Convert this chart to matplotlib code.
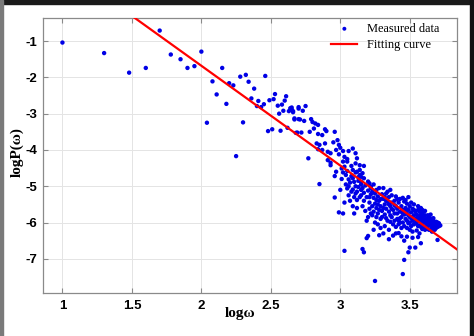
import numpy as np
import matplotlib
matplotlib.use("Agg")
import matplotlib.pyplot as plt
from matplotlib.patches import Rectangle

# log(omega), log(P) pairs

# sparse head of the distribution
head_points = [
    (1.00, -1.04), (1.30, -1.33), (1.48, -1.87), (1.60, -1.74), (1.70, -0.71),
    (1.78, -1.37), (1.85, -1.50), (1.90, -1.74), (1.95, -1.69), (2.00, -1.29),
    (2.08, -2.11), (2.11, -2.47), (2.15, -1.74), (2.18, -2.73), (2.04, -3.25),
    (2.20, -2.16), (2.23, -2.22), (2.28, -1.98), (2.32, -1.93), (2.34, -2.12),
    (2.30, -3.24), (2.36, -2.58), (2.38, -2.31), (2.40, -2.79), (2.41, -2.65),
    (2.43, -2.82), (2.45, -2.74), (2.46, -1.96), (2.48, -3.48), (2.51, -3.43),
    (2.49, -2.63), (2.52, -2.60), (2.53, -2.46), (2.55, -2.78), (2.56, -3.00),
    (2.57, -3.47), (2.58, -2.75), (2.59, -2.92), (2.60, -2.64), (2.61, -2.52),
    (2.62, -3.39), (2.63, -2.93), (2.64, -2.85), (2.65, -2.83), (2.66, -2.93),
    (2.67, -3.16), (2.69, -3.52), (2.70, -2.86), (2.70, -3.15), (2.25, -4.17),
]

# transition region 2.65 - 3.15
mid_points = [
    (2.65, -2.88), (2.66, -2.96), (2.70, -2.82), (2.73, -2.92), (2.75, -2.79),
    (2.67, -3.13), (2.71, -3.16), (2.74, -3.20), (2.79, -3.15), (2.80, -3.23),
    (2.82, -3.27), (2.84, -3.31), (2.81, -3.41), (2.78, -3.50), (2.68, -3.53),
    (2.72, -3.52), (2.84, -3.56), (2.87, -3.59), (2.89, -3.43), (2.90, -3.48),
    (2.96, -3.50), (2.83, -3.82), (2.85, -3.86), (2.89, -3.82), (2.84, -3.98),
    (2.87, -4.00), (2.91, -4.05), (2.93, -4.09), (2.95, -3.79), (2.98, -3.73),
    (2.99, -3.86), (3.00, -3.94), (3.02, -4.03), (2.97, -4.00), (2.99, -4.12),
    (3.03, -4.19), (3.05, -4.25), (3.06, -4.03), (3.09, -3.96), (3.11, -4.09),
    (3.12, -4.23), (2.77, -4.23), (2.91, -4.28), (2.93, -4.35), (3.02, -4.32),
    (3.05, -4.32), (2.93, -4.42), (2.97, -4.60), (2.96, -4.72), (2.85, -4.94),
    (3.01, -4.51), (3.03, -4.46), (3.04, -4.69), (3.08, -4.44), (3.09, -4.55),
    (3.06, -4.81), (3.05, -5.06), (3.09, -5.09), (3.11, -5.20), (3.12, -5.15),
    (2.96, -5.31), (3.12, -5.38), (3.09, -5.55), (2.99, -5.72), (3.02, -5.75),
    (3.11, -4.37), (3.11, -4.62), (3.14, -4.42), (3.17, -4.44), (3.12, -4.60),
    (3.14, -4.69), (3.15, -4.74), (3.16, -4.64), (3.17, -4.78), (3.20, -4.87),
    (3.21, -4.92), (3.22, -5.01), (3.01, -4.80), (3.04, -4.95), (3.06, -5.25),
    (3.08, -4.72), (3.10, -4.88), (3.13, -5.02), (3.14, -5.30), (3.00, -5.10),
    (3.03, -5.45), (3.07, -5.40), (3.12, -5.60), (3.10, -5.75), (3.14, -4.55),
    (3.13, -4.75), (3.15, -4.95),
    (3.02, -4.62), (3.05, -4.58), (3.07, -4.90), (3.09, -4.78), (3.11, -5.00),
    (3.13, -4.85), (3.15, -5.10), (3.06, -5.00), (3.08, -5.15), (3.10, -5.30),
]

# dense tail 3.15 - 3.72
tail_points = [
    (3.15, -4.88), (3.16, -5.05), (3.17, -5.18), (3.18, -4.98), (3.19, -5.30),
    (3.20, -5.12), (3.21, -5.45), (3.22, -5.22), (3.16, -5.55), (3.18, -5.68),
    (3.20, -5.85), (3.17, -5.40), (3.19, -5.95), (3.21, -5.62), (3.22, -5.05),
    (3.15, -5.25),
    (3.23, -5.15), (3.24, -5.32), (3.24, -4.95), (3.25, -5.48), (3.26, -5.10),
    (3.26, -5.60), (3.27, -5.28), (3.27, -5.75), (3.28, -5.40), (3.28, -5.05),
    (3.29, -5.55), (3.29, -5.90), (3.30, -5.22), (3.30, -5.68), (3.23, -5.80),
    (3.25, -6.00), (3.27, -6.05), (3.29, -6.15), (3.24, -5.70), (3.26, -5.38),
    (3.21, -5.30), (3.23, -5.55), (3.25, -5.20), (3.27, -5.50), (3.29, -5.35),
    (3.28, -5.65), (3.26, -5.85), (3.22, -5.75),
    (3.31, -5.35), (3.31, -5.05), (3.32, -5.50), (3.32, -5.78), (3.33, -5.20),
    (3.33, -5.62), (3.34, -5.42), (3.34, -5.95), (3.35, -5.30), (3.35, -5.70),
    (3.36, -5.55), (3.36, -5.10), (3.37, -5.85), (3.37, -5.45), (3.38, -5.65),
    (3.38, -6.05), (3.32, -6.10), (3.35, -6.20), (3.36, -5.98), (3.33, -5.88),
    (3.37, -5.25), (3.34, -5.15), (3.31, -5.60), (3.33, -5.40), (3.35, -5.50),
    (3.37, -5.62), (3.32, -5.30), (3.36, -5.80), (3.30, -5.85),
    (3.39, -5.40), (3.39, -5.75), (3.40, -5.55), (3.40, -5.28), (3.41, -5.90),
    (3.41, -5.62), (3.42, -5.45), (3.42, -6.05), (3.43, -5.70), (3.43, -5.35),
    (3.44, -5.85), (3.44, -5.55), (3.45, -6.00), (3.45, -5.65), (3.46, -5.78),
    (3.46, -5.42), (3.40, -6.12), (3.42, -5.95), (3.44, -6.15), (3.39, -5.95),
    (3.41, -5.35), (3.43, -6.00), (3.45, -5.32), (3.46, -6.10), (3.39, -5.52),
    (3.41, -5.75), (3.43, -5.88), (3.45, -5.75),
    (3.47, -5.60), (3.47, -5.90), (3.48, -5.75), (3.48, -5.48), (3.49, -6.02),
    (3.49, -5.65), (3.50, -5.85), (3.50, -5.55), (3.51, -6.10), (3.51, -5.72),
    (3.52, -5.95), (3.52, -5.62), (3.53, -5.80), (3.53, -6.05), (3.54, -5.70),
    (3.54, -5.92), (3.48, -6.15), (3.50, -6.20), (3.52, -6.25), (3.47, -5.38),
    (3.49, -5.30), (3.51, -5.45), (3.53, -5.50), (3.50, -6.00), (3.52, -5.85),
    (3.47, -5.70), (3.48, -5.95), (3.49, -5.80), (3.51, -5.88), (3.53, -5.65),
    (3.54, -6.02),
    (3.55, -5.78), (3.55, -6.00), (3.56, -5.88), (3.56, -5.65), (3.57, -6.08),
    (3.57, -5.82), (3.58, -5.95), (3.58, -5.72), (3.59, -6.02), (3.59, -5.85),
    (3.60, -5.92), (3.60, -6.12), (3.61, -5.80), (3.61, -6.00), (3.62, -5.90),
    (3.62, -6.08), (3.55, -6.22), (3.57, -6.30), (3.59, -6.18), (3.56, -5.55),
    (3.58, -5.60), (3.60, -5.70), (3.61, -6.20), (3.57, -5.95), (3.59, -5.78),
    (3.62, -5.98), (3.55, -5.88), (3.56, -6.10), (3.57, -5.70), (3.58, -5.85),
    (3.58, -6.12), (3.60, -6.00), (3.60, -5.82), (3.61, -5.92), (3.62, -6.15),
    (3.61, -5.68), (3.59, -5.65),
    (3.63, -5.95), (3.63, -6.10), (3.64, -6.02), (3.64, -5.85), (3.65, -6.08),
    (3.65, -5.92), (3.66, -6.00), (3.66, -6.15), (3.67, -6.05), (3.67, -5.95),
    (3.68, -6.10), (3.68, -6.00), (3.69, -6.05), (3.69, -6.15), (3.70, -6.08),
    (3.71, -6.10), (3.70, -6.00), (3.64, -6.20), (3.66, -6.25), (3.68, -6.20),
    (3.63, -5.80), (3.65, -5.78), (3.67, -5.88), (3.71, -6.02), (3.72, -6.08),
    (3.63, -6.02), (3.64, -5.92), (3.65, -6.00), (3.66, -6.08), (3.66, -5.90),
    (3.67, -6.12), (3.68, -6.05), (3.69, -5.98), (3.70, -6.12), (3.63, -6.18),
]

# stragglers below the main band
low_points = [
    (3.35, -6.46), (3.38, -6.36), (3.42, -6.29), (3.46, -6.50), (3.49, -6.82),
    (3.50, -6.69), (3.54, -6.69), (3.58, -6.57), (3.70, -6.48), (3.48, -6.39),
    (3.52, -6.42), (3.56, -6.40), (3.44, -6.38), (3.40, -6.30), (3.31, -6.30),
    (3.28, -6.35), (3.03, -6.78), (3.16, -6.73), (3.17, -6.82), (3.19, -6.43),
    (3.20, -6.37), (3.24, -6.20), (3.25, -7.61), (3.45, -7.42), (3.46, -7.03),
]

# least-squares line  logP = a*log(omega) + b
fit_slope = -2.75
fit_intercept = 3.82

x_lim = (0.86, 3.84)
y_lim = (-7.95, -0.35)
x_ticks = [1, 1.5, 2, 2.5, 3, 3.5]
x_labels = ["1", "1.5", "2", "2.5", "3", "3.5"]
y_ticks = [-7, -6, -5, -4, -3, -2, -1]
y_labels = ["-7", "-6", "-5", "-4", "-3", "-2", "-1"]

pts = np.array(head_points + mid_points + tail_points + low_points)

fig = plt.figure(figsize=(4.74, 3.36), dpi=100)
ax = fig.add_axes([0.0907, 0.1271, 0.8734, 0.8208])

ax.scatter(pts[:, 0], pts[:, 1], s=10, color="#0000e6", edgecolors="none",
           label="Measured data", zorder=3)

xf = np.array(x_lim)
ax.plot(xf, fit_slope * xf + fit_intercept, color="#ff0000", lw=1.6,
        label="Fitting curve", zorder=4)

ax.set_xlim(*x_lim)
ax.set_ylim(*y_lim)
ax.set_xticks(x_ticks)
ax.set_xticklabels(x_labels)
ax.set_yticks(y_ticks)
ax.set_yticklabels(y_labels)

ax.grid(True, color="#e4e4e4", lw=0.7)
ax.set_axisbelow(True)
for s in ax.spines.values():
    s.set_color("#8a8a8a")
    s.set_linewidth(0.9)
ax.tick_params(direction="in", top=True, right=True, length=3.5,
               color="#8a8a8a")
ax.tick_params(axis="y", pad=4)
ax.tick_params(axis="x", pad=5)
for lab in ax.get_xticklabels() + ax.get_yticklabels():
    lab.set_fontfamily("Liberation Sans")
    lab.set_fontweight("bold")
    lab.set_fontsize(9.5)

ax.set_xlabel("logω", family="Liberation Serif", fontweight="bold",
              fontsize=11)
ax.xaxis.set_label_coords(0.476, -0.048)
ax.set_ylabel("logP(ω)", family="Liberation Serif", fontweight="bold",
              fontsize=11)
ax.yaxis.set_label_coords(-0.047, 0.512)

leg = ax.legend(loc="upper right", frameon=False,
                prop={"family": "Liberation Serif", "size": 8.9},
                handlelength=2.1, labelspacing=0.33, borderaxespad=0,
                bbox_to_anchor=(0.97, 0.998), markerscale=0.9)

# dark frame strips round the figure
fig.patches.append(Rectangle((0, 0.988), 1, 0.012, transform=fig.transFigure,
                             color="#1a1a1a", zorder=10))
fig.patches.append(Rectangle((0, 0), 0.006, 1, transform=fig.transFigure,
                             color="#7a7a7a", zorder=10))
fig.patches.append(Rectangle((0.991, 0), 0.009, 1, transform=fig.transFigure,
                             color="#111111", zorder=10))

fig.savefig("out.png", dpi=100)
